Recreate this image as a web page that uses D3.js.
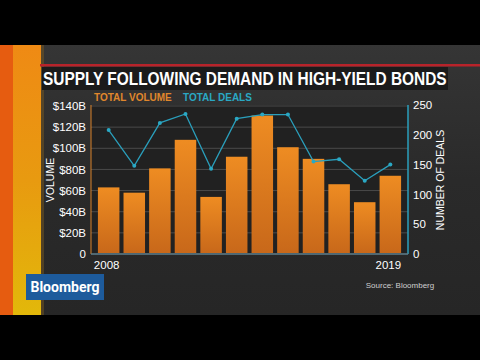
<!DOCTYPE html>
<html lang="en">
  <head>
    <meta charset="UTF-8" />
    <title>Supply Following Demand in High-Yield Bonds</title>
    <script src="https://d3js.org/d3.v7.min.js"></script>
    <style>
      html, body { margin: 0; padding: 0; background: #000; }
      svg { display: block; font-family: "Liberation Sans", Arial, sans-serif; }
    </style>
  </head>
  <body>
    <div id="chart"></div>
    <script>
      const years = ["2008","2009","2010","2011","2012","2013","2014","2015","2016","2017","2018","2019"];
      const volume = [63, 58, 81, 108, 54, 92, 131, 101, 90, 66, 49, 74];
      const deals = [208, 148, 220, 235, 143, 227, 234, 234, 155, 159, 123, 150];
      const volumeTicks = [0, 20, 40, 60, 80, 100, 120, 140];
      const dealTicks = [0, 50, 100, 150, 200, 250];

      const width = 480, height = 360;
      const svg = d3.select("#chart").append("svg")
        .attr("width", width).attr("height", height);

      const defs = svg.append("defs");
      const bg = defs.append("linearGradient").attr("id", "bg").attr("x1", 0).attr("y1", 0).attr("x2", 0).attr("y2", 1);
      bg.append("stop").attr("offset", 0).attr("stop-color", "#353535");
      bg.append("stop").attr("offset", 0.5).attr("stop-color", "#2a2a2a");
      bg.append("stop").attr("offset", 1).attr("stop-color", "#262626");
      const barGrad = defs.append("linearGradient").attr("id", "bar").attr("x1", 0).attr("y1", 0).attr("x2", 0).attr("y2", 1);
      barGrad.append("stop").attr("offset", 0).attr("stop-color", "#ee8c22");
      barGrad.append("stop").attr("offset", 1).attr("stop-color", "#c8681a");
      const stripe = defs.append("linearGradient").attr("id", "stripe").attr("x1", 0).attr("y1", 0).attr("x2", 0).attr("y2", 1);
      stripe.append("stop").attr("offset", 0).attr("stop-color", "#ef8a14");
      stripe.append("stop").attr("offset", 0.5).attr("stop-color", "#e89a10");
      stripe.append("stop").attr("offset", 1).attr("stop-color", "#e2b80a");

      // letterbox + frame
      svg.append("rect").attr("width", width).attr("height", height).attr("fill", "#000");
      svg.append("rect").attr("x", 0).attr("y", 45).attr("width", width).attr("height", 270).attr("fill", "url(#bg)");
      svg.append("rect").attr("x", 0).attr("y", 45).attr("width", 13).attr("height", 270).attr("fill", "#e65c10");
      svg.append("rect").attr("x", 13).attr("y", 45).attr("width", 28).attr("height", 270).attr("fill", "url(#stripe)");
      svg.append("rect").attr("x", 41).attr("y", 45).attr("width", 3).attr("height", 270).attr("fill", "#7a5a20").attr("opacity", 0.5);

      // title
      svg.append("rect").attr("x", 40).attr("y", 64).attr("width", 440).attr("height", 2.5).attr("fill", "#b8232a");
      svg.append("rect").attr("x", 42).attr("y", 67).attr("width", 406).attr("height", 23).attr("fill", "#1b1b1b");
      const title = svg.append("text").attr("x", 0).attr("y", 0)
        .attr("fill", "#fff").attr("font-size", 19).attr("font-weight", "bold")
        .text("SUPPLY FOLLOWING DEMAND IN HIGH-YIELD BONDS");
      const natural = title.node().getComputedTextLength();
      title.attr("transform", `translate(43,85) scale(${404 / natural},1)`);

      const plot = { left: 91, right: 408, top: 105, bottom: 254 };
      svg.append("rect").attr("x", plot.left).attr("y", plot.top)
        .attr("width", plot.right - plot.left).attr("height", plot.bottom - plot.top)
        .attr("fill", "#212121");

      const x = d3.scaleBand().domain(years).range([plot.left, plot.right])
        .paddingInner(0.16).paddingOuter(0.27);
      const yL = d3.scaleLinear().domain([0, 140]).range([plot.bottom, plot.top + 1]);
      const yR = d3.scaleLinear().domain([0, 250]).range([plot.bottom, plot.top]);

      // gridlines
      svg.append("g").selectAll("line").data(volumeTicks.slice(1)).join("line")
        .attr("x1", plot.left).attr("x2", plot.right)
        .attr("y1", d => yL(d)).attr("y2", d => yL(d))
        .attr("stroke", "#4a4a4a").attr("stroke-width", 1);

      // bars
      svg.append("g").selectAll("rect").data(volume).join("rect")
        .attr("x", (d, i) => x(years[i])).attr("width", x.bandwidth())
        .attr("y", d => yL(d)).attr("height", d => yL(0) - yL(d) - 1)
        .attr("fill", "url(#bar)");

      // deals line
      const line = d3.line().x((d, i) => x(years[i]) + x.bandwidth() / 2).y(d => yR(d));
      svg.append("path").datum(deals).attr("d", line)
        .attr("fill", "none").attr("stroke", "#2a9fbc").attr("stroke-width", 1.3);
      svg.append("g").selectAll("circle").data(deals).join("circle")
        .attr("cx", (d, i) => x(years[i]) + x.bandwidth() / 2).attr("cy", d => yR(d))
        .attr("r", 2).attr("fill", "#2aa8c4");

      // axis lines
      svg.append("line").attr("x1", plot.left).attr("x2", plot.left).attr("y1", plot.top).attr("y2", plot.bottom)
        .attr("stroke", "#d9822a").attr("stroke-width", 1);
      svg.append("line").attr("x1", plot.right).attr("x2", plot.right).attr("y1", plot.top).attr("y2", plot.bottom)
        .attr("stroke", "#2a9fbc").attr("stroke-width", 1.5);
      svg.append("line").attr("x1", plot.left).attr("x2", plot.right).attr("y1", plot.bottom).attr("y2", plot.bottom)
        .attr("stroke", "#5f7f8c").attr("stroke-width", 1.5);

      // left axis
      const leftAxis = svg.append("g").attr("transform", `translate(${plot.left},0)`)
        .call(d3.axisLeft(yL).tickValues(volumeTicks).tickSize(0).tickPadding(5)
          .tickFormat(d => d === 0 ? "0" : `$${d}B`));
      leftAxis.select(".domain").remove();
      leftAxis.selectAll("text").attr("fill", "#fff").attr("font-size", 11.5)
        .attr("font-family", "Liberation Sans, Arial, sans-serif");

      // right axis
      const rightAxis = svg.append("g").attr("transform", `translate(${plot.right},0)`)
        .call(d3.axisRight(yR).tickValues(dealTicks).tickSize(0).tickPadding(5));
      rightAxis.select(".domain").remove();
      rightAxis.selectAll("text").attr("fill", "#fff").attr("font-size", 11.5)
        .attr("font-family", "Liberation Sans, Arial, sans-serif");

      // axis titles
      svg.append("text").attr("transform", "translate(54,180) rotate(-90)")
        .attr("text-anchor", "middle").attr("fill", "#fff").attr("font-size", 10.5)
        .text("VOLUME");
      svg.append("text").attr("transform", "translate(444,180) rotate(-90)")
        .attr("text-anchor", "middle").attr("fill", "#fff").attr("font-size", 10.5)
        .text("NUMBER OF DEALS");

      // x labels (first and last only)
      [years[0], years[years.length - 1]].forEach(yr => {
        svg.append("text").attr("x", x(yr) + x.bandwidth() / 2 - 2).attr("y", 269)
          .attr("text-anchor", "middle").attr("fill", "#fff").attr("font-size", 11.5)
          .text(yr);
      });

      // legend
      svg.append("text").attr("x", 94).attr("y", 101).attr("fill", "#e0872c")
        .attr("font-size", 10).attr("font-weight", "bold").text("TOTAL VOLUME");
      svg.append("text").attr("x", 183).attr("y", 101).attr("fill", "#2aa8c4")
        .attr("font-size", 10).attr("font-weight", "bold").text("TOTAL DEALS");

      // Bloomberg logo and source
      svg.append("rect").attr("x", 26).attr("y", 274).attr("width", 78).attr("height", 26).attr("fill", "#1d5b9c");
      svg.append("text").attr("x", 65).attr("y", 292).attr("text-anchor", "middle")
        .attr("fill", "#fff").attr("font-size", 14).attr("font-weight", "bold")
        .attr("font-family", "Roboto, Arial, sans-serif").text("Bloomberg");
      svg.append("text").attr("x", 400).attr("y", 288).attr("text-anchor", "middle")
        .attr("fill", "#cfcfcf").attr("font-size", 8).text("Source: Bloomberg");
    </script>
  </body>
</html>
